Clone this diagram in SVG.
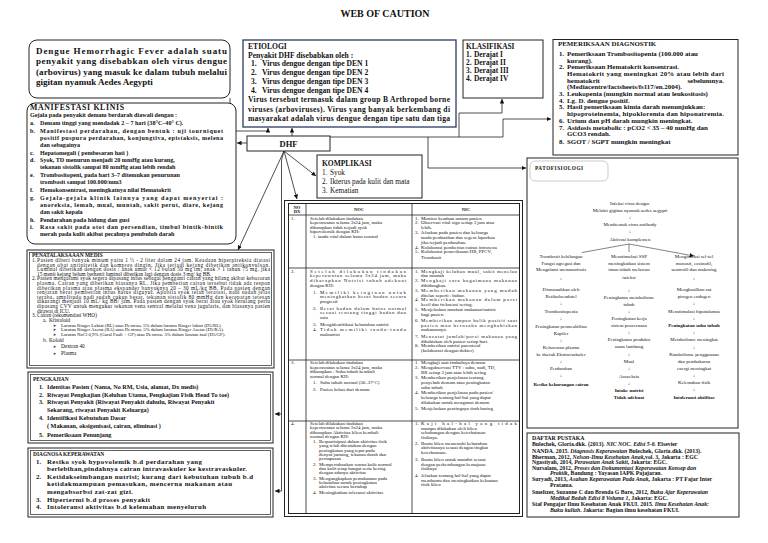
<svg xmlns="http://www.w3.org/2000/svg" width="768" height="543" viewBox="0 0 768 543">
<defs>
<style>
text{font-family:"Liberation Serif","Times New Roman",serif;fill:#111}
.b{font-weight:bold}
.box{fill:#fff;stroke:#222;stroke-width:1}
.thin{fill:none;stroke:#222;stroke-width:0.7}
.con{fill:none;stroke:#222;stroke-width:0.8}
.t{font-size:4.9px}
.pm{font-size:5.3px}
.pm2{font-size:4.8px}
.pk{font-size:6.2px;font-weight:bold}
.mk{font-size:6.1px;font-weight:bold}
.pf{font-size:4.9px;fill:#333}
.dp{font-size:5.8px;font-weight:bold}
.ar{font-family:"DejaVu Sans",sans-serif;font-size:3.8px}
</style>
<marker id="ah" viewBox="0 0 6 6" refX="6" refY="3" markerUnits="userSpaceOnUse" markerWidth="4.5" markerHeight="4.5" orient="auto"><path d="M0,0 L6,3 L0,6 z" fill="#111"/></marker>
</defs>
<rect width="768" height="543" fill="#fff"/>
<text x="385" y="17" class="b" font-size="10" text-anchor="middle">WEB OF CAUTION</text>

<g id="connectors">
<path class="con" d="M230,98 V131 H268 V128" marker-end="url(#ah)"/>
<path class="con" d="M292,136 V128" marker-end="url(#ah)"/>
<path class="con" d="M247,143 H237" marker-end="url(#ah)"/>
<path class="con" d="M330,137 H503 V119 H551" marker-end="url(#ah)"/>
<path class="con" d="M459,137 V113 H502 V99" marker-end="url(#ah)"/>
<path class="con" d="M428,137 V168 H526" marker-end="url(#ah)"/>
<path class="con" d="M284,151 L316,176" marker-end="url(#ah)"/>
<path class="con" d="M284,151 L297,199" marker-end="url(#ah)"/>
<path class="con" d="M284,151 L238,250" marker-end="url(#ah)"/>
<path class="con" d="M284,151 L281.5,160 V491"/>
<path class="con" d="M281.5,414 H275" marker-end="url(#ah)"/>
<path class="con" d="M281.5,491 H275" marker-end="url(#ah)"/>
</g>

<g id="dhf">
<rect class="box" x="247" y="136" width="83" height="15"/>
<text x="288.5" y="147" class="b" font-size="8.5" text-anchor="middle">DHF</text>
</g>

<g id="definisi">
<rect class="box" x="29" y="40" width="201" height="58" rx="8"/>
<text class="b" font-size="9" x="36" y="53.5" textLength="191" lengthAdjust="spacing">Dengue Hemorrhagic Fever adalah suatu</text>
<text class="b" font-size="9" x="36" y="64" textLength="191" lengthAdjust="spacing">penyakit yang disebabkan oleh virus dengue</text>
<text class="b" font-size="9" x="36" y="74.5" textLength="191" lengthAdjust="spacing">(arbovirus) yang masuk ke dalam tubuh melalui</text>
<text class="b" font-size="9" x="36" y="85">gigitan nyamuk Aedes Aegypti</text>
</g>

<g id="etiologi">
<rect x="243" y="40" width="213" height="87" fill="#fff" stroke="#2c3a66" stroke-width="1.3"/>
<g class="b" font-size="7.6">
<text x="248" y="49">ETIOLOGI</text>
<text x="248" y="57.5">Penyakit DHF disebabkan oleh :</text>
<text x="251" y="66">1.</text><text x="262" y="66">Virus dengue dengan tipe DEN 1</text>
<text x="251" y="75">2.</text><text x="262" y="75">Virus dengue dengan tipe DEN 2</text>
<text x="251" y="84">3.</text><text x="262" y="84">Virus dengue dengan tipe DEN 3</text>
<text x="251" y="93">4.</text><text x="262" y="93">Virus dengue dengan tipe DEN 4</text>
<text x="248" y="102" textLength="202" lengthAdjust="spacing">Virus tersebut termasuk dalam group B Arthropod borne</text>
<text x="248" y="111.5" textLength="202" lengthAdjust="spacing">viruses (arboviruses). Virus yang banyak berkembang di</text>
<text x="248" y="121" textLength="202" lengthAdjust="spacing">masyarakat adalah virus dengue dengan tipe satu dan tiga</text>
</g>
</g>

<g id="klasifikasi">
<rect class="box" x="463" y="40" width="80" height="58"/>
<g class="b" font-size="7.4">
<text x="466" y="48.5">KLASIFIKASI</text>
<text x="466" y="57">1.</text><text x="474" y="57">Derajat I</text>
<text x="466" y="65">2.</text><text x="474" y="65">Derajat II</text>
<text x="466" y="73">3.</text><text x="474" y="73">Derajat III</text>
<text x="466" y="81">4.</text><text x="474" y="81">Derajat IV</text>
</g>
</g>

<g id="pemeriksaan">
<rect class="box" x="553" y="39.5" width="185" height="115.5"/>
<g class="b" font-size="6.9">
<text x="558" y="46">PEMERIKSAAN DIAGNOSTIK</text>
<text x="559" y="56">1.</text><text x="567" y="56">Pemeriksaan Trombositopenia (100.000 atau</text>
<text x="567" y="62.6">kurang).</text>
<text x="559" y="69.4">2.</text><text x="567" y="69.4">Pemeriksaan Hematokrit konsentrasi.</text>
<text x="567" y="76" textLength="157" lengthAdjust="spacing">Hematokrit yang meningkat 20%  atau lebih dari</text>
<text x="567" y="82.6">hematokrit</text><text x="724" y="82.6" text-anchor="end">sebelumnya.</text>
<text x="567" y="89.2">(Mediacentre/factsheets/fs117/en.2004).</text>
<text x="559" y="95.8">3.</text><text x="567" y="95.8">Leukopenia (mungkin normal atau leukositosis)</text>
<text x="559" y="102.6">4.</text><text x="567" y="102.6">Lg. D. dengue positif.</text>
<text x="559" y="109.4">5.</text><text x="567" y="109.4">Hasil pemeriksaan kimia darah menunjukkan:</text>
<text x="567" y="116" textLength="157" lengthAdjust="spacing">hipoproteinemia, hipokloremia dan hiponatremia.</text>
<text x="559" y="122.6">6.</text><text x="567" y="122.6">Urium dan pH darah mungkin meningkat.</text>
<text x="559" y="129.6">7.</text><text x="567" y="129.6">Asidosis metabolic : pCO2 &lt; 35 – 40 mmHg dan</text>
<text x="567" y="136.4">GCO3 rendah.</text>
<text x="559" y="143.6">8.</text><text x="567" y="143.6">SGOT / SGPT mungkin meningkat</text>
</g>
</g>

<g id="manifestasi">
<rect class="box" x="27" y="103" width="209" height="141" rx="8"/>
<text x="30" y="110" class="b" font-size="7.8" textLength="94" lengthAdjust="spacing">MANIFESTASI KLINIS</text>
<g class="mk">
<text x="30" y="117">Gejala pada penyakit demam berdarah diawali dengan :</text>
<text x="30" y="125">a.</text><text x="40" y="125">Demam tinggi yang mendadak 2 – 7 hari (38°C–40° C).</text>
<text x="30" y="133">b.</text><text x="40" y="133" textLength="183" lengthAdjust="spacing">Manifestasi perdarahan, dengan bentuk : uji tourniquet</text>
<text x="40" y="140" textLength="183" lengthAdjust="spacing">positif puspura perdarahan, konjungtiva, epistaksis, melena</text>
<text x="40" y="147">dan sebagainya</text>
<text x="30" y="155">c.</text><text x="40" y="155">Hepatomegali ( pembesaran hati )</text>
<text x="30" y="162">d.</text><text x="40" y="162">Syok, TD menurun menjadi 20 mmHg atau  kurang,</text>
<text x="40" y="169">tekanan sistolik sampai 80 mmHg atau lebih rendah</text>
<text x="30" y="177">e.</text><text x="40" y="177">Trombositopeni, pada hari 3–7 ditemukan penurunan</text>
<text x="40" y="184">trombosit sampai 100.000/mm3</text>
<text x="30" y="191.5">f.</text><text x="40" y="191.5">Hemokonsentrasi, meningkatnya nilai Hematokrit</text>
<text x="30" y="200">g.</text><text x="40" y="200" textLength="183" lengthAdjust="spacing">Gejala-gejala klinik lainnya yang dapat menyertai :</text>
<text x="40" y="207" textLength="183" lengthAdjust="spacing">anoreksia, lemah, mual, muntah, sakit perut, diare, kejang</text>
<text x="40" y="214">dan sakit kepala</text>
<text x="30" y="221.5">h.</text><text x="40" y="221.5">Pendarahan pada hidung dan gusi</text>
<text x="30" y="229">i.</text><text x="40" y="229" textLength="183" lengthAdjust="spacing">Rasa sakit pada otot dan persendian, timbul bintik-bintik</text>
<text x="40" y="236">merah pada kulit akibat pecahnya pembuluh darah</text>
</g>
</g>

<g id="penatalaksanaan">
<rect class="box" x="27" y="250" width="247" height="118"/>
<rect class="thin" x="29.5" y="252.5" width="242" height="113"/>
<text x="32" y="257" class="b" font-size="5.4">PENATALAKSAAAN MEDIS</text>
<g class="pm">
<text x="32" y="262">1.</text><text x="37" y="262" textLength="233" lengthAdjust="spacing">Pasien diberi banyak minum yaitu 1 ½ - 2 liter dalam 24 jam. Keadaan hiperpireksia diatasi</text>
<text x="37" y="266.6" textLength="233" lengthAdjust="spacing">dengan obat antipiretik dan kompres dingin. Jika terjadi kejang diberikan antikonvulsan.</text>
<text x="37" y="271.2" textLength="233" lengthAdjust="spacing">Luminal diberikan dengan dosis : anak umur &lt; 12 bulan 50 mg im; anak &gt; 1 tahun 75 mg. jika</text>
<text x="37" y="275.8">15 menit kejang belum berhenti luminal diberikan lagi dengan dosis 3 mg/ kg BB.</text>
<text x="32" y="280.4">2.</text><text x="37" y="280.4" textLength="233" lengthAdjust="spacing">Pasien mengalami syok segera dipasang infus sebagai pengganti cairan yang hilang akibat kebocoran</text>
<text x="37" y="285" textLength="233" lengthAdjust="spacing">plasma. Cairan yang diberikan biasanya RL. Jika pemberian cairan tersebut tidak ada respon</text>
<text x="37" y="289.6" textLength="233" lengthAdjust="spacing">diberikan plasma atau plasma ekspander banyaknya 20 – 30 mL/kg BB. Pada pasien dengan</text>
<text x="37" y="294.2" textLength="233" lengthAdjust="spacing">renjatan berat pemberian infus harus diguyur. Apabila syok telah teratasi, nadi sudah jelas</text>
<text x="37" y="298.8" textLength="233" lengthAdjust="spacing">teraba, amplitudo nadi sudah cukup besar, tekanan sistolik 80 mmHg dan kecepatan tetesan</text>
<text x="37" y="303.4" textLength="233" lengthAdjust="spacing">dikurangi menjadi 10 mL/ kg BB/ jam. Pada pasien dengan syok berat atau syok berulang perlu</text>
<text x="37" y="308" textLength="233" lengthAdjust="spacing">dipasang CVV untuk mengukur tekanan vena sentral melalui vena jugularis, dan biasanya pasien</text>
<text x="37" y="312.6">dirawat di ICU.</text>
<text x="32" y="317.2">3.</text><text x="37" y="317.2">Cairan (rekomendasi WHO)</text>
<text x="43" y="321.8">a.</text><text x="49" y="321.8">Kristaloid</text>
</g>
<g class="pm2">
<text x="53" y="326.5" class="ar">➤</text><text x="61" y="326.5">Larutan Ringer Laktat (RL) atau Dextrose 5% dalam larutan Ringer laktat (D5/RL).</text>
<text x="53" y="331" class="ar">➤</text><text x="61" y="331">Larutan Ringer Asetat (RA) atau Dextrose 5% dalam larutan Ringer Asetat (D5/RA).</text>
<text x="53" y="335.5" class="ar">➤</text><text x="61" y="335.5">Larutan NaCl 0,9% (Garal Faali + GF) atau Dextrose 5% dalam larutan faal (D5/GF).</text>
</g>
<g class="pm">
<text x="43" y="341.8">b.</text><text x="49" y="341.8">Koloid</text>
<text x="53" y="348" class="ar">➤</text><text x="61" y="348">Dextran 40</text>
<text x="53" y="354.5" class="ar">➤</text><text x="61" y="354.5">Plasma</text>
</g>
</g>

<g id="pengkajian">
<rect class="box" x="28" y="372" width="245" height="71"/>
<rect class="thin" x="30.5" y="374.5" width="240" height="66"/>
<text x="33" y="380.5" class="b" font-size="5.4">PENGKAJIAN</text>
<g class="pk">
<text x="39" y="389">1.</text><text x="47" y="389">Identitas Pasien ( Nama, No RM, Usia, alamat, Dx  medis)</text>
<text x="39" y="396.5">2.</text><text x="47" y="396.5">Riwayat Pengkajian (Keluhan Utama, Pengkajian Fisik Head To toe)</text>
<text x="39" y="404">3.</text><text x="47" y="404">Riwayat Penyakit (Riwayat Penyakit dahulu, Riwayat Penyakit</text>
<text x="47" y="411.5">Sekarang, riwayat Penyakit Keluarga)</text>
<text x="39" y="419.5">4.</text><text x="47" y="419.5">Identifikasi Kebutuhan Dasar</text>
<text x="47" y="427.5">( Makanan, oksigenisasi, cairan, eliminasi )</text>
<text x="39" y="436.5">5.</text><text x="47" y="436.5">Pemeriksaan Penunjang</text>
</g>
</g>

<g id="diagnosa">
<rect class="box" x="28" y="448" width="245" height="69"/>
<rect class="thin" x="30.5" y="450.5" width="240" height="64"/>
<text x="33" y="456" class="b" font-size="5.4">DIAGNOSA KEPERAWATAN</text>
<g class="b" font-size="6.9">
<text x="36" y="463.6">1.</text><text x="47" y="463.6" textLength="155" lengthAdjust="spacing">Resiko syok hypovolemik b.d perdarahan yang</text>
<text x="47" y="471.2" textLength="200" lengthAdjust="spacing">berlebihan,pindahnya cairan intravaskuler ke kestravaskuler.</text>
<text x="36" y="478.8">2.</text><text x="47" y="478.8" textLength="206" lengthAdjust="spacing">Ketidakseimbangan nutrisi; kurang dari kebutuhan tubuh b.d</text>
<text x="47" y="486.4" textLength="185" lengthAdjust="spacing">ketidakmampuan pemasukan, mencerna makanan atau</text>
<text x="47" y="494" textLength="86" lengthAdjust="spacing">mengabsorbsi zat-zat gizi.</text>
<text x="36" y="501.6">3.</text><text x="47" y="501.6" textLength="103" lengthAdjust="spacing">Hipertermi b.d proses penyakit</text>
<text x="36" y="509.2">4.</text><text x="47" y="509.2" textLength="159" lengthAdjust="spacing">Intoleransi aktivitas b.d kelemahan menyeluruh</text>
</g>
</g>

<g id="komplikasi">
<rect class="box" x="317" y="155" width="105" height="43"/>
<text x="322" y="165.5" class="b" font-size="7.5">KOMPLIKASI</text>
<g font-size="7.3">
<text x="322" y="174.5">1.</text><text x="330" y="174.5">Syok</text>
<text x="322" y="183.5">2.</text><text x="330" y="183.5">Ikterus pada kulit dan mata</text>
<text x="322" y="192.5">3.</text><text x="330" y="192.5">Kematian</text>
</g>
</g>

<g id="tabel">
<rect x="284.5" y="200.5" width="238" height="316" fill="#fff" stroke="#222" stroke-width="1"/>
<rect x="288.5" y="203.5" width="231" height="310" fill="none" stroke="#222" stroke-width="1"/>
<path class="con" d="M306,203.5 V513.5 M412,203.5 V513.5 M288.5,215 H519.5 M288.5,268 H519.5 M288.5,360 H519.5 M288.5,421 H519.5"/>
<g class="b" font-size="4.6" text-anchor="middle">
<text x="297" y="208.5">NO</text><text x="297" y="213">DX</text>
<text x="359" y="211">NOC</text><text x="466" y="211">NIC</text>
</g>
<g class="t">
<text x="291" y="219.5">1.</text><text x="291" y="272.5">2.</text><text x="291" y="364">3.</text><text x="291" y="425">4.</text>
<text x="310" y="219.5">Setelah dilakukan tindakan</text>
<text x="310" y="224">keperawatan selama 3x24 jam, maka</text>
<text x="310" y="228.5">diharapkan tidak terjadi syok</text>
<text x="310" y="233">hipovolemik dengan KH:</text>
<text x="313" y="237.5">1. tanda vital dalam batas normal</text>

<text x="310" y="272.5" textLength="96" lengthAdjust="spacing">Setelah dilakukan tindakan</text>
<text x="310" y="277.3" textLength="96" lengthAdjust="spacing">keperawatan selama 3x24 jam, maka</text>
<text x="310" y="282.1" textLength="96" lengthAdjust="spacing">diharapkan Nutrisi tubuh adekuat</text>
<text x="310" y="286.9">dengan KH:</text>
<text x="313" y="293.5">1.</text><text x="320" y="293.5" textLength="86" lengthAdjust="spacing">Memiliki keinginan untuk</text>
<text x="320" y="298.3" textLength="86" lengthAdjust="spacing">meningkatkan berat badan secara</text>
<text x="320" y="303.1">progresif</text>
<text x="313" y="309.5">2.</text><text x="320" y="309.5" textLength="86" lengthAdjust="spacing">Berat badan dalam batas normal</text>
<text x="320" y="314.3" textLength="86" lengthAdjust="spacing">sesuai rentang tinggi badan dan</text>
<text x="320" y="319.1">usia</text>
<text x="313" y="326">3.</text><text x="320" y="326">Mengidentifikasi kebutuhan nutrisi</text>
<text x="313" y="331">4.</text><text x="320" y="331" textLength="86" lengthAdjust="spacing">Tidak memiliki tanda-tanda</text>
<text x="320" y="335.8">malnutrisi</text>

<text x="310" y="364">Setelah dilakukan tindakan</text>
<text x="310" y="368.6">keperawatan selama 3x24 jam, maka</text>
<text x="310" y="373.2">diharapkan : Suhu tubuh kembali</text>
<text x="310" y="377.8">normal dengan KH:</text>
<text x="313" y="383.5">1.</text><text x="320" y="383.5">Suhu tubuh normal (36–37°C)</text>
<text x="313" y="390.5">2.</text><text x="320" y="390.5">Pasien bebas dari demam</text>

<text x="310" y="425">Setelah dilakukan tindakan</text>
<text x="310" y="429.4">keperawatan selama 3x24 jam, maka</text>
<text x="310" y="433.8">diharapkan Aktivitas klien kembali</text>
<text x="310" y="438.2">normal dengan KH:</text>
<text x="313" y="443.2">1.</text><text x="319" y="443.2">Berpartisipasi dalam aktivitas fisik</text>
<text x="319" y="447.4">yang telah ditentukan dengan</text>
<text x="319" y="451.6">peningkatan yang tepat pada</text>
<text x="319" y="455.8">denyut jantung, tekanan darah dan</text>
<text x="319" y="460">pernapasan</text>
<text x="313" y="465.5">2.</text><text x="319" y="465.5">Mempertahankan warna kulit normal</text>
<text x="319" y="469.7">dan kulit tetap hangat serta kering</text>
<text x="319" y="473.9">dengan adanya aktivitas</text>
<text x="313" y="479.5">3.</text><text x="319" y="479.5">Mengungkapkan pemahaman pada</text>
<text x="319" y="483.7">kebutuhan untuk peningkatan</text>
<text x="319" y="487.9">aktivitas secara bertahap</text>
<text x="313" y="493.5">4.</text><text x="319" y="493.5">Meningkatkan toleransi aktivitas</text>

<text x="415" y="219.5">1.</text><text x="421" y="219.5">Monitor keadaan umum pasien</text>
<text x="415" y="224.3">2.</text><text x="421" y="224.3">Observasi vital sign setiap 3 jam atau</text>
<text x="421" y="229.1">lebih.</text>
<text x="415" y="234.3">3.</text><text x="421" y="234.3">Jelaskan pada pasien dan keluarga</text>
<text x="421" y="239.1">tanda perdarahan dan segera laporkan</text>
<text x="421" y="243.9">jika terjadi perdarahan.</text>
<text x="415" y="248.5">4.</text><text x="421" y="248.5">Kolaborasi pemberian cairan intravena</text>
<text x="415" y="253.3">5.</text><text x="421" y="253.3">Kolaborasi pemeriksaan HB, PPCV,</text>
<text x="421" y="258.5">Trombosit</text>

<text x="415" y="272.5">1.</text><text x="421" y="272.5" textLength="96" lengthAdjust="spacing">Mengkaji keluhan mual, sakit menelan</text>
<text x="421" y="277">dan muntah</text>
<text x="415" y="282.3">2.</text><text x="421" y="282.3" textLength="96" lengthAdjust="spacing">Mengkaji cara bagaimana makanan</text>
<text x="421" y="286.8">dihidangkan.</text>
<text x="415" y="292.1">3.</text><text x="421" y="292.1" textLength="96" lengthAdjust="spacing">Memberikan makanan yang mudah</text>
<text x="421" y="296.6">ditelan seperti : bubur.</text>
<text x="415" y="301.1">4.</text><text x="421" y="301.1" textLength="96" lengthAdjust="spacing">Memberikan makanan dalam porsi</text>
<text x="421" y="305.6">kecil dan frekuensi sering.</text>
<text x="415" y="311">5.</text><text x="421" y="311">Menjelaskan manfaat makanan/nutrisi</text>
<text x="421" y="315.5">bagi pasien.</text>
<text x="415" y="322">6.</text><text x="421" y="322" textLength="96" lengthAdjust="spacing">Memberikan umpan balik positif saat</text>
<text x="421" y="326.5" textLength="96" lengthAdjust="spacing">pasien mau berusaha menghabiskan</text>
<text x="421" y="331">makanannya.</text>
<text x="415" y="338">7.</text><text x="421" y="338" textLength="96" lengthAdjust="spacing">Mencatat jumlah/porsi makanan yang</text>
<text x="421" y="342.5">dihabiskan oleh pasien setiap hari.</text>
<text x="415" y="347">8.</text><text x="421" y="347">Memberikan nutrisi parenteral</text>
<text x="421" y="351.5">(kolaborasi dengan dokter)</text>

<text x="415" y="364">1.</text><text x="421" y="364">Mengkaji saat timbulnya demam</text>
<text x="415" y="369">2.</text><text x="421" y="369">Mengobservasi TTV : suhu, nadi, TD,</text>
<text x="421" y="373.8">RR setiap 3 jam atau lebih sering</text>
<text x="415" y="379">3.</text><text x="421" y="379">Memberikan penjelasan tentang</text>
<text x="421" y="383.8">penyebab demam atau peningkatan</text>
<text x="421" y="388.6">suhu tubuh</text>
<text x="415" y="394">4.</text><text x="421" y="394">Memberikan penjelasan pada pasien/</text>
<text x="421" y="398.8">keluarga tentang hal-hal yang dapat</text>
<text x="421" y="403.6">dilakukan untuk mengatasi demam</text>
<text x="415" y="410">5.</text><text x="421" y="410">Menjelaskan pentingnya tirah baring</text>

<text x="415" y="425">1.</text><text x="421" y="425" textLength="96" lengthAdjust="spacing">Kaji hal-hal yang tidak</text>
<text x="421" y="429.5">mampu dilakukan oleh klien</text>
<text x="421" y="434">sehubungan dengan keterbatasan</text>
<text x="421" y="438.5">fisiknya.</text>
<text x="415" y="444.5">2.</text><text x="421" y="444.5">Bantu klien memenuhi kebutuhan</text>
<text x="421" y="449">aktivitasnya sesuai dengan tingkat</text>
<text x="421" y="453.5">keterbatasan.</text>
<text x="415" y="461">3.</text><text x="421" y="461">Bantu klien untuk mandiri sesuai</text>
<text x="421" y="465.5">dengan perkembangan kemajuan</text>
<text x="421" y="470">fisiknya</text>
<text x="415" y="477">4.</text><text x="421" y="477">Jelaskan tentang hal-hal yang dapat</text>
<text x="421" y="481.5">membantu dan meningkatkan kekuatan</text>
<text x="421" y="486">fisik klien</text>
</g>
</g>

<g id="patofisiologi">
<rect class="box" x="527" y="158" width="211" height="270" stroke-width="1.2"/>
<rect x="530" y="161" width="78" height="20" rx="5" fill="#fff" stroke="#aaa" stroke-width="0.6"/>
<text x="535" y="170" class="b" font-size="5.3" letter-spacing="0.5" fill="#444">PATOFISIOLOGI</text>
<g class="pf" text-anchor="middle">
<text x="630" y="205">Infeksi virus dengue</text>
<text x="630" y="212">Melalui gigitan nyamuk aedes aegypti</text>
<text x="630" y="219">↓</text>
<text x="630" y="225.5">Membentuk virus antibody</text>
<text x="630" y="233">↓</text>
<text x="630" y="241">Aktivasi komplemen</text>
<text x="561" y="258">Trombosit kehilangan</text>
<text x="561" y="264.5">Fungsi agregasi dan</text>
<text x="561" y="271">Mengalami metamorfosis</text>
<text x="561" y="280">↓</text>
<text x="561" y="291">Dimusnahkan oleh</text>
<text x="561" y="297.5">Retikuloendotel</text>
<text x="561" y="304.5">↓</text>
<text x="561" y="313">Trombositopenia</text>
<text x="561" y="319.5">↓</text>
<text x="561" y="328">Peningkatan permeabilitas</text>
<text x="561" y="335">Kapiler</text>
<text x="561" y="342">↓</text>
<text x="561" y="349">Kebocoran plasma</text>
<text x="561" y="356">ke daerah Ekstravaskuler</text>
<text x="561" y="362.5">↓</text>
<text x="561" y="369.5">Perdarahan</text>
<text x="561" y="377">↓</text>
<text x="561" y="386" class="b">Resiko kekurangan cairan</text>
<text x="629" y="258">Menstimulasi SSP</text>
<text x="629" y="264.5">meningkatkan sistem</text>
<text x="629" y="271">imun tubuh melawan</text>
<text x="629" y="279">infeksi</text>
<text x="629" y="292">↓</text>
<text x="629" y="299">Peningkatan metabolisme</text>
<text x="629" y="306">tubuh</text>
<text x="629" y="313">↓</text>
<text x="629" y="320">Peningkatan kerja</text>
<text x="629" y="327">sistem pencernaan</text>
<text x="629" y="334">↓</text>
<text x="629" y="341">Peningkatan produksi</text>
<text x="629" y="348">asam lambung</text>
<text x="629" y="356">↓</text>
<text x="629" y="363">Mual</text>
<text x="629" y="369.5">↓</text>
<text x="629" y="378">Anoreksia</text>
<text x="629" y="385">↓</text>
<text x="629" y="392" class="b">Intake nutrisi</text>
<text x="629" y="399" class="b">Tidak adekuat</text>
<text x="694" y="258">Menginfeksi sel-sel</text>
<text x="694" y="264.5">monosit, eosinofil,</text>
<text x="694" y="271">neutrofil dan makrofag</text>
<text x="694" y="280">↓</text>
<text x="694" y="291">Menghasilkan zat</text>
<text x="694" y="298">pirogen endogen</text>
<text x="694" y="305">↓</text>
<text x="694" y="313">Menstimulasi hipotalamus</text>
<text x="694" y="319.5">↓</text>
<text x="694" y="327" class="b">Peningkatan suhu tubuh</text>
<text x="694" y="334">↓</text>
<text x="694" y="341">Metabolisme meningkat</text>
<text x="694" y="349">↓</text>
<text x="694" y="356">Katabolisme penggunaan</text>
<text x="694" y="363">dan pembakaran</text>
<text x="694" y="369.5">energi meningkat</text>
<text x="694" y="377">↓</text>
<text x="694" y="384">Kelemahan fisik</text>
<text x="694" y="391">↓</text>
<text x="694" y="399" class="b">Intoleransi aktifitas</text>
</g>
<path d="M629,244 L582,252.5 M629,244 V252 M629,244 L694,256" fill="none" stroke="#333" stroke-width="0.6" marker-end="url(#ah)"/>
</g>

<g id="daftar-pustaka">
<rect class="box" x="527" y="433" width="212" height="84" stroke-width="1.3"/>
<g class="dp">
<text x="532" y="440">DAFTAR PUSTAKA</text>
<text x="532" y="446">Bulechek, Gloria.dkk. (2013). <tspan font-style="italic">NIC NOC. Edisi 5-6.</tspan> Elsevier</text>
<text x="532" y="452.5">NANDA. 2015. <tspan font-style="italic">Diagnosis Keperawatan</tspan> Bulechek, Gloria.dkk. (2013).</text>
<text x="532" y="458.5">Bherman, 2012, <tspan font-style="italic">Nelson-Ilmu Kesehatan Anak</tspan>,vol. 3, Jakarta : EGC</text>
<text x="532" y="464">Ngastiyah, 2014, <tspan font-style="italic">Perawatan Anak Sakit</tspan>, Jakarta: EGC.</text>
<text x="532" y="469.5">Nursalam, 2012, <tspan font-style="italic">Proses dan Dokumentasi Keperawatan Konsep dan</tspan></text>
<text x="550" y="475"><tspan font-style="italic">Praktik</tspan>, Bandung : Yayasan IAPK Pajajaran.</text>
<text x="532" y="481">Suryadi, 2013, <tspan font-style="italic">Asuhan Keperawatan Pada Anak</tspan>, Jakarta : PT Fajar Inter</text>
<text x="550" y="486.5">Pratama.</text>
<text x="532" y="494">Smeltzer, Suzanne C dan Brenda G Bare, 2012, <tspan font-style="italic">Buku Ajar Keperawatan</tspan></text>
<text x="550" y="499.5"><tspan font-style="italic">Medikal Bedah Edisi 8 Volume 1</tspan>, Jakarta: EGC.</text>
<text x="532" y="505.5">Staf Pengajar Ilmu Kesehatan Anak FKUI. 2015. <tspan font-style="italic">Ilmu Kesehatan Anak:</tspan></text>
<text x="550" y="511.5"><tspan font-style="italic">Buku kuliah</tspan>. Jakarta: Bagian ilmu kesehatan FKUI.</text>
</g>
</g>
</svg>
